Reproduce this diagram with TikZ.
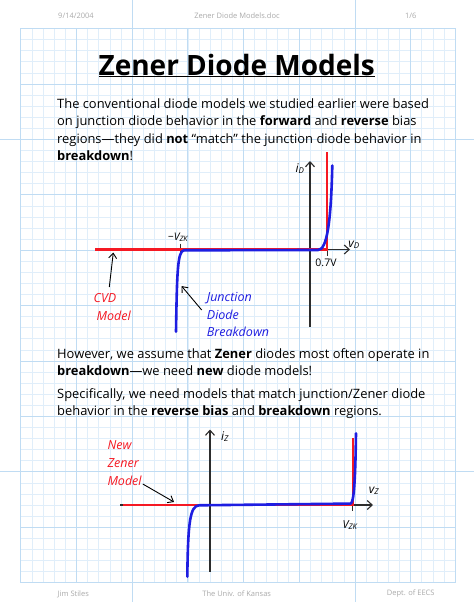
\documentclass[tikz,border=0pt]{standalone}
\usepackage{fontspec}
\setmainfont{Open Sans}
\usetikzlibrary{arrows.meta}
\definecolor{gridminor}{RGB}{224,238,250}
\definecolor{gridmajor}{RGB}{192,220,243}
\definecolor{hdrgray}{RGB}{170,170,170}
\definecolor{cvdred}{RGB}{245,25,35}
\definecolor{jblue}{RGB}{30,30,225}
\definecolor{axisgray}{RGB}{45,45,45}
\tikzset{
  minorline/.style={gridminor, line width=0.5pt},
  majorline/.style={gridmajor, line width=0.8pt},
  hdr/.style={text=hdrgray, font=\fontsize{7.5}{9}\selectfont, inner sep=0pt},
  body/.style={anchor=base west, inner sep=0pt, font=\fontsize{12.9}{15}\selectfont},
  axis/.style={axisgray, line width=1.1pt, -{Straight Barb[length=5pt,width=9pt,line width=1.1pt]}},
  lblarrow/.style={black, line width=0.9pt, -{Straight Barb[length=5pt,width=8pt,line width=0.9pt]}},
  redcurve/.style={cvdred, line width=2.2pt},
  bluecurve/.style={jblue, line width=2.6pt, line cap=round},
  redlbl/.style={text=cvdred, font=\fontsize{12.5}{14}\selectfont\itshape, inner sep=0pt, anchor=base west},
  bluelbl/.style={text=jblue, font=\fontsize{12.5}{14}\selectfont\itshape, inner sep=0pt, anchor=base west},
  axlbl/.style={font=\fontsize{12}{14}\selectfont\itshape, inner sep=0pt},
}
\begin{document}
\begin{tikzpicture}[x=1pt,y=-1pt]
\useasboundingbox (0,0) rectangle (474,613);
\fill[white] (0,0) rectangle (474,613);
% grid
\foreach \i in {1,...,39} \draw[minorline] ({20.7+\i*11.14},28.5) -- ({20.7+\i*11.14},582.5);
\foreach \j in {1,...,49} \draw[minorline] (20.7,{28.5+\j*11.08}) -- (455.5,{28.5+\j*11.08});
\foreach \i in {1,...,7} \draw[majorline] ({20.7+\i*55.7},28.5) -- ({20.7+\i*55.7},582.5);
\foreach \j in {1,...,9} \draw[majorline] (20.7,{28.5+\j*55.4}) -- (455.5,{28.5+\j*55.4});
\draw[majorline] (20.7,28.5) rectangle (455.5,582.5);
\draw[majorline] (132.3,0) -- (132.3,601.5);
\draw[majorline] (355.2,0) -- (355.2,601.5);
\draw[majorline] (0,139.3) -- (474,139.3);
\draw[majorline] (0,471.7) -- (474,471.7);
% header / footer
\node[hdr] (h1) at (76,16) {9/14/2004};
\node[hdr] (h2) at (237,16) {Zener Diode Models.doc};
\node[hdr] (h3) at (410.7,16) {1/6};
\node[hdr] (f1) at (73.3,594) {Jim Stiles};
\node[hdr] (f2) at (236.7,594) {The Univ. of Kansas};
\node[hdr] (f3) at (410.7,594) {Dept. of EECS};
% title
\node[inner sep=0pt, anchor=base, font=\fontsize{28}{32}\selectfont\bfseries] (title) at (236.7,75) {\underline{Zener Diode Models}};
% paragraph 1
\node[body] (p1a) at (57,108.3) {The conventional diode models we studied earlier were based};
\node[body] (p1b) at (57,125.8) {on junction diode behavior in the \textbf{forward} and \textbf{reverse} bias};
\node[body] (p1c) at (57,143.3) {regions—they did \textbf{not} “match” the junction diode behavior in};
\node[body] (p1d) at (57,160.6) {\textbf{breakdown}!};
% paragraph 2
\node[body] (p2a) at (57,358.3) {However, we assume that \textbf{Zener} diodes most often operate in};
\node[body] (p2b) at (57,375.3) {\textbf{breakdown}—we need \textbf{new} diode models!};
\node[body] (p3a) at (57,398.3) {Specifically, we need models that match junction/Zener diode};
\node[body] (p3b) at (57,415.3) {behavior in the \textbf{reverse bias} and \textbf{breakdown} regions.};
% ---------- diagram 1 ----------
\coordinate (o1) at (310,249.5);
\coordinate (y1b) at (310,326.7);
\coordinate (y1t) at (310,161);
\coordinate (x1t) at (350,249.5);
\draw[axis] (y1b) -- (y1t);
\draw[axis] (o1) -- (x1t);
\draw[axisgray, line width=0.9pt] (180,243.5) -- (180,252);
\draw[axisgray, line width=0.9pt] (327.3,249.5) -- (327.3,256);
\draw[redcurve] (95,249.5) -- (327.3,249.5) -- (327.3,152);
\draw[bluecurve] (176,331.7) .. controls (177,272) and (177.5,251) .. (184,250.3) -- (318,250) .. controls (327,250) and (331,222) .. (332.3,165.5);
\node[axlbl, anchor=base] (iD) at (300,172) {i\textsubscript{D}};
\node[axlbl, anchor=base] (vD) at (354,247) {v\textsubscript{D}};
\node[inner sep=0pt, anchor=base, font=\fontsize{10.5}{12}\selectfont] (v07) at (326,266) {0.7V};
\node[axlbl, anchor=base, font=\fontsize{10.5}{12}\selectfont\itshape] (vzk1) at (178,240) {−V\textsubscript{ZK}};
\node[redlbl] (cvd1) at (93.5,302) {CVD};
\node[redlbl] (cvd2) at (96.5,320) {Model};
\coordinate (cvdtip) at (113.3,252.5);
\draw[lblarrow] (109.3,287) -- (cvdtip);
\node[bluelbl] (jd1) at (206.7,301) {Junction};
\node[bluelbl] (jd2) at (206.7,319) {Diode};
\node[bluelbl] (jd3) at (206.7,336) {Breakdown};
\coordinate (jdtip) at (181.5,286);
\draw[lblarrow] (201.7,310) -- (jdtip);
% ---------- diagram 2 ----------
\coordinate (y2b) at (210,571.7);
\coordinate (y2t) at (210,429.5);
\coordinate (x2s) at (120,505);
\coordinate (x2t) at (373,505);
\draw[axis] (y2b) -- (y2t);
\draw[axis] (x2s) -- (x2t);
\draw[axisgray, line width=0.9pt] (352.7,505) -- (352.7,511);
\draw[redcurve] (123.3,505) -- (352.7,505) -- (352.7,438);
\draw[bluecurve] (187.3,576.7) .. controls (188,522) and (190,506) .. (199,505.3) -- (350.5,503.6) .. controls (354,503.3) and (355.3,480) .. (356,433.3);
\node[axlbl, anchor=base] (iZ) at (225,440) {i\textsubscript{Z}};
\node[axlbl, anchor=base] (vZ) at (374,493) {v\textsubscript{Z}};
\node[axlbl, anchor=base, font=\fontsize{11}{12}\selectfont\itshape] (vzk2) at (350,528) {V\textsubscript{ZK}};
\node[redlbl] (nz1) at (107.3,449.5) {New};
\node[redlbl] (nz2) at (107.3,467.5) {Zener};
\node[redlbl] (nz3) at (107.3,485) {Model};
\coordinate (nztip) at (174,502);
\draw[lblarrow] (nz3.base east) ++(1,-1) -- (nztip);
\end{tikzpicture}
\end{document}
